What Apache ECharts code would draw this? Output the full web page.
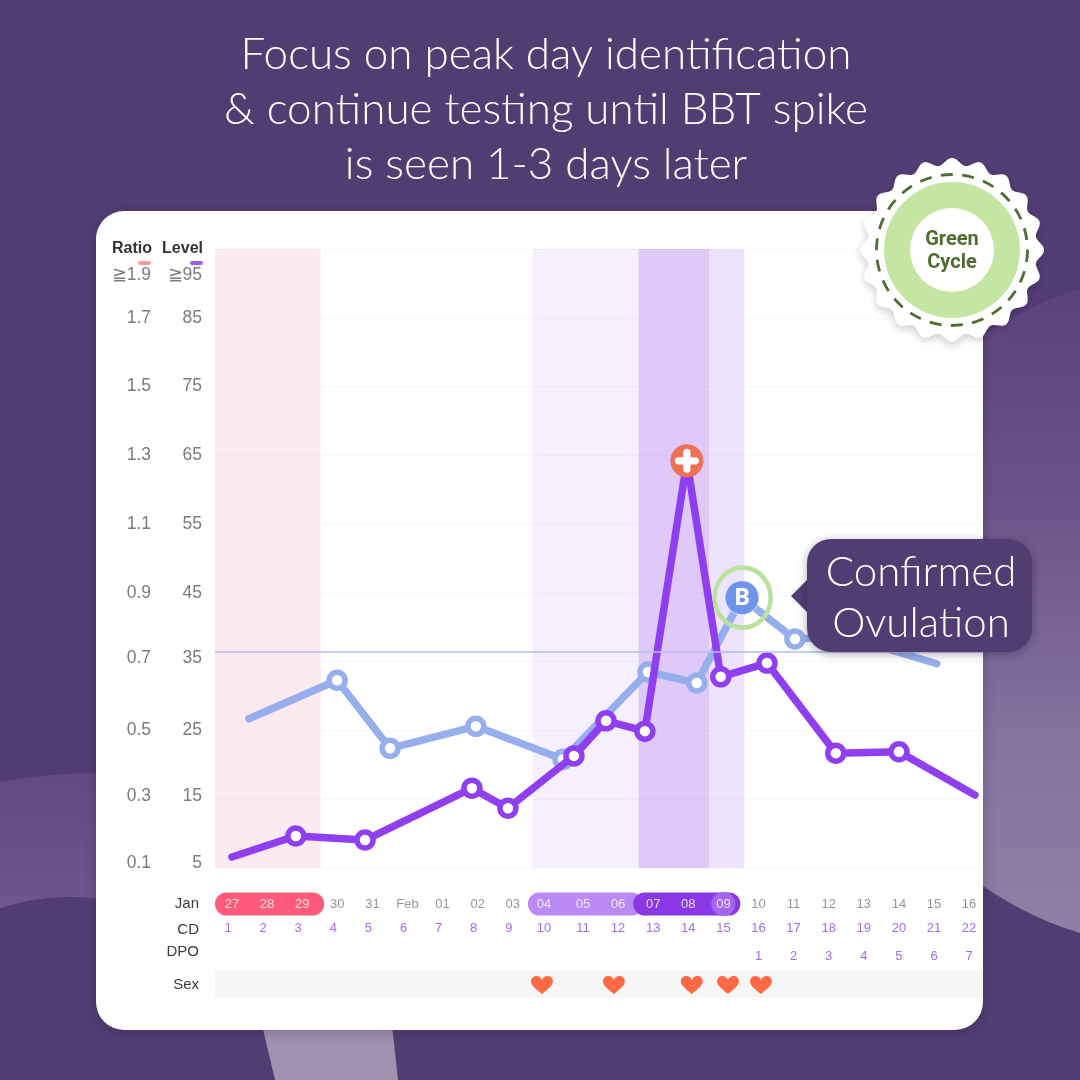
<!DOCTYPE html>
<html>
<head>
<meta charset="utf-8">
<style>html,body{margin:0;padding:0;background:#523d73}#c{width:1080px;height:1080px}</style>
<script src="https://cdn.jsdelivr.net/npm/echarts@6/dist/echarts.min.js"></script>
</head>
<body>
<div id="c"></div>
<script>
// ---------- data ----------
const titleLines = ['Focus on peak day identification', '& continue testing until BBT spike', 'is seen 1-3 days later'];
const levelTicks = [5, 15, 25, 35, 45, 55, 65, 75, 85, 95];
const ratioTicks = ['0.1', '0.3', '0.5', '0.7', '0.9', '1.1', '1.3', '1.5', '1.7', '1.9'];
const levelDays = [0.98, 2.79, 4.75, 7.78, 8.8, 10.67, 11.58, 12.68, 13.87, 14.83, 16.14, 18.09, 19.88, 22.03];
const levelValues = [6.6, 9.65, 9.07, 16.6, 13.7, 21.3, 26.4, 24.9, 64.2, 32.8, 34.8, 21.7, 21.9, 15.6];
const bbtDays = [1.46, 3.96, 5.46, 7.89, 10.36, 12.77, 14.15, 15.43, 16.93, 18.35, 20.95];
const bbtValues = [26.7, 32.3, 22.4, 25.6, 20.8, 33.5, 31.9, 44.3, 38.3, 38.7, 34.7];
const coverLine = 36.4;
const dateLabels = ['27','28','29','30','31','Feb','01','02','03','04','05','06','07','08','09','10','11','12','13','14','15','16'];
const cdLabels = ['1','2','3','4','5','6','7','8','9','10','11','12','13','14','15','16','17','18','19','20','21','22'];
const dpoDays = [16, 17, 18, 19, 20, 21, 22];
const dpoLabels = ['1','2','3','4','5','6','7'];
const sexDays = [9.83, 11.88, 14.1, 15.13, 16.07];
const rowNames = ['Jan', 'CD', 'DPO', 'Sex'];

// ---------- styles / layout ----------
const PURPLE = '#8f3ff0', BLUE = '#97aeec', SANS = '"Liberation Sans", Arial, sans-serif', HAND = 'Lato, "Open Sans", sans-serif';
const bandList = [
  [0.5, 3.5, 'rgba(238,130,170,0.17)'],
  [9.5, 12.5, 'rgba(155,90,240,0.09)'],
  [12.5, 14.5, 'rgba(140,70,235,0.29)'],
  [14.5, 15.5, 'rgba(140,70,235,0.15)']
];
const pillList = [
  [1, 3, 17, 22, '#ff5a7c'],
  [10, 12, 20, 25, '#b98af3'],
  [13, 15, 20, 17, '#8a38e6']
];
const rowLabelY = { Jan: 24, CD: 50, DPO: 72, Sex: 105 };
const dateRowY = 24, cdRowY = 48, dpoRowY = 76, sexRowY = 105;
const tickShift = { '≧95': 'down25', '35': 'up3', '15': 'up3', '5': 'up6', '≧1.9': 'down25', '0.7': 'up3', '0.3': 'up3', '0.1': 'up6' };
const labelBase = { fontSize: 17.5, color: '#7b7b7b', fontFamily: SANS };
const tickRich = {
  down25: Object.assign({ padding: [52, 0, 0, 0] }, labelBase),
  up3: Object.assign({ padding: [0, 0, 6, 0] }, labelBase),
  up6: Object.assign({ padding: [0, 0, 10, 0] }, labelBase),
  n: labelBase
};
function tickFormatter(text) {
  return '{' + (tickShift[text] || 'n') + '|' + text + '}';
}
function scallop(cx, cy, n) {
  const pts = [];
  for (let i = 0; i < 720; i++) {
    const t = i / 720 * Math.PI * 2;
    const r = 88.5 + 3.5 * Math.cos(n * (t + Math.PI / 2));
    pts.push([cx + r * Math.cos(t), cy + r * Math.sin(t)]);
  }
  return pts;
}
const back = -10, front = 100;

const chart = echarts.init(document.getElementById('c'), null, { renderer: 'canvas' });
chart.setOption({
  animation: false,
  backgroundColor: '#523d73',
  title: {
    text: titleLines.join('\n'), left: 541, top: 22, textAlign: 'center',
    textStyle: { color: '#fff', fontFamily: HAND, fontWeight: 300, fontSize: 44, lineHeight: 55 }
  },
  grid: [
    { left: 215, top: 249, width: 768, height: 619 },
    { left: 215, top: 880, width: 768, height: 120 }
  ],
  xAxis: [
    { type: 'value', gridIndex: 0, show: false, min: 0.5, max: 22.26, splitLine: { show: false } },
    { type: 'value', gridIndex: 1, show: false, min: 0.5157, max: 22.396, splitLine: { show: false } }
  ],
  yAxis: [
    {
      type: 'value', gridIndex: 0, position: 'left', min: 5, max: 95, interval: 10,
      name: 'Level', nameLocation: 'end', nameGap: 0,
      nameTextStyle: { align: 'right', verticalAlign: 'middle', fontFamily: SANS, fontSize: 16, fontWeight: 'bold', color: '#333', padding: [0, 12, 0, 0] },
      axisLine: { show: false }, axisTick: { show: false },
      splitLine: { show: true, lineStyle: { color: '#f8f7f9', width: 1 } },
      axisLabel: {
        margin: 13, rich: tickRich,
        formatter: (v) => { const t = String(Math.round(v)); return tickFormatter(t === '95' ? '≧95' : t); }
      }
    },
    {
      type: 'value', gridIndex: 0, position: 'left', offset: 52, min: 0.1, max: 1.9, interval: 0.2,
      name: 'Ratio', nameLocation: 'end', nameGap: 0,
      nameTextStyle: { align: 'right', verticalAlign: 'middle', fontFamily: SANS, fontSize: 16, fontWeight: 'bold', color: '#333', padding: [0, 11, 0, 0] },
      axisLine: { show: false }, axisTick: { show: false }, splitLine: { show: false },
      axisLabel: {
        margin: 12, rich: tickRich,
        formatter: (v) => { const t = ratioTicks[Math.round((v - 0.1) / 0.2)]; return tickFormatter(t === '1.9' ? '≧1.9' : t); }
      }
    },
    {
      type: 'value', gridIndex: 1, inverse: true, min: 0, max: 120,
      axisLine: { show: false }, axisTick: { show: false }, splitLine: { show: false },
      axisLabel: {
        customValues: rowNames.map((n) => rowLabelY[n]), margin: 16,
        fontFamily: SANS, fontSize: 15, color: '#3c3c3c',
        formatter: (v) => rowNames.find((n) => rowLabelY[n] === v) || ''
      }
    }
  ],
  series: [
    {
      name: 'Bands', type: 'line', xAxisIndex: 0, yAxisIndex: 0, data: [], z: 1, silent: true,
      markArea: {
        silent: true,
        data: bandList.map((b) => [
          { xAxis: b[0], yAxis: 5, itemStyle: { color: b[2] } },
          { xAxis: b[1], yAxis: 95 }
        ])
      },
      markLine: {
        silent: true, symbol: 'none', label: { show: false },
        lineStyle: { color: '#b4bdee', width: 1.5, type: 'solid' },
        data: [{ yAxis: coverLine }]
      }
    },
    {
      name: 'BBT', type: 'line', xAxisIndex: 0, yAxisIndex: 0, z: 3,
      data: bbtDays.map((d, i) => {
        const hide = i === 0 || i === bbtDays.length - 1 || i === 7;
        return { value: [d, bbtValues[i]], symbol: hide ? 'none' : 'circle' };
      }),
      symbolSize: 16, showAllSymbol: true,
      lineStyle: { color: BLUE, width: 7.5, cap: 'round', join: 'round' },
      itemStyle: { color: '#fff', borderColor: BLUE, borderWidth: 5.5 }
    },
    {
      name: 'Level', type: 'line', xAxisIndex: 0, yAxisIndex: 0, z: 4,
      data: levelDays.map((d, i) => {
        const hide = i === 0 || i === levelDays.length - 1 || i === 8;
        return { value: [d, levelValues[i]], symbol: hide ? 'none' : 'circle' };
      }),
      symbolSize: 16, showAllSymbol: true,
      lineStyle: { color: PURPLE, width: 7.5, cap: 'round', join: 'round' },
      itemStyle: { color: '#fff', borderColor: PURPLE, borderWidth: 5.5 }
    },
    {
      name: 'PeakDisc', type: 'scatter', xAxisIndex: 0, yAxisIndex: 0, z: 6, silent: true,
      data: [[levelDays[8], levelValues[8]]], symbol: 'circle', symbolSize: 33,
      itemStyle: { color: '#ee7055', opacity: 1 }
    },
    {
      name: 'PeakPlus', type: 'scatter', xAxisIndex: 0, yAxisIndex: 0, z: 7, silent: true,
      data: [[levelDays[8], levelValues[8]]],
      symbol: 'path://M7 3a3 3 0 0 1 6 0v4h4a3 3 0 0 1 0 6h-4v4a3 3 0 0 1-6 0v-4H3a3 3 0 0 1 0-6h4z', symbolSize: 24,
      itemStyle: { color: '#fff', opacity: 1 }
    },
    {
      name: 'BbtSpike', type: 'scatter', xAxisIndex: 0, yAxisIndex: 0, z: 6, silent: true,
      data: [[bbtDays[7], bbtValues[7]]], symbol: 'circle', symbolSize: 34,
      itemStyle: { color: '#6f95ea', borderColor: '#dfe8fb', borderWidth: 1, opacity: 1 },
      label: { show: true, position: 'inside', formatter: 'B', color: '#fff', fontFamily: '"Open Sans", sans-serif', fontWeight: 'bold', fontSize: 24 }
    },
    {
      name: 'BbtRing', type: 'scatter', xAxisIndex: 0, yAxisIndex: 0, z: 6, silent: true,
      data: [[bbtDays[7] + 0.02, bbtValues[7]]], symbol: 'circle', symbolSize: [56, 60],
      itemStyle: { color: 'transparent', borderColor: '#b9e29e', borderWidth: 4.5, opacity: 1 }
    },
    // ---- table rows ----
    {
      name: 'Pills', type: 'custom', xAxisIndex: 1, yAxisIndex: 2, z: 2, silent: true,
      data: pillList.map((p) => [p[0], p[1]]),
      renderItem: (params, api) => {
        const p = pillList[params.dataIndex];
        const a = api.coord([api.value(0), dateRowY]);
        const b = api.coord([api.value(1), dateRowY]);
        return {
          type: 'rect',
          shape: { x: a[0] - p[2], y: a[1] - 11.5, width: b[0] - a[0] + p[2] + p[3], height: 23, r: 11.5 },
          style: { fill: p[4] }
        };
      }
    },
    {
      name: 'Day9Mark', type: 'scatter', xAxisIndex: 1, yAxisIndex: 2, z: 3, silent: true,
      data: [[15, dateRowY]], symbol: 'circle', symbolSize: 24,
      itemStyle: { color: '#a466ee', opacity: 1 }
    },
    {
      name: 'Dates', type: 'scatter', xAxisIndex: 1, yAxisIndex: 2, z: 5, silent: true,
      data: dateLabels.map((t, i) => {
        const d = i + 1;
        const inPill = d <= 3 || (d >= 10 && d <= 15);
        return {
          value: [d, dateRowY], name: t,
          label: { color: inPill ? '#fff' : '#7a7a7a', offset: [d === 10 ? -4 : 0, 0] }
        };
      }),
      symbolSize: 1, itemStyle: { color: 'transparent' },
      label: { show: true, position: 'inside', formatter: (p) => p.name, fontFamily: SANS, fontSize: 13 }
    },
    {
      name: 'CD', type: 'scatter', xAxisIndex: 1, yAxisIndex: 2, z: 5, silent: true,
      data: cdLabels.map((t, i) => ({ value: [i + 1, cdRowY], name: t, label: { offset: [i < 10 ? -4 : 0, 0] } })),
      symbolSize: 1, itemStyle: { color: 'transparent' },
      label: { show: true, position: 'inside', formatter: (p) => p.name, fontFamily: SANS, fontSize: 13, color: '#8f45e0' }
    },
    {
      name: 'DPO', type: 'scatter', xAxisIndex: 1, yAxisIndex: 2, z: 5, silent: true,
      data: dpoDays.map((d, i) => ({ value: [d, dpoRowY], name: dpoLabels[i] })),
      symbolSize: 1, itemStyle: { color: 'transparent' },
      label: { show: true, position: 'inside', formatter: (p) => p.name, fontFamily: SANS, fontSize: 13, color: '#8f45e0' }
    },
    {
      name: 'Sex', type: 'scatter', xAxisIndex: 1, yAxisIndex: 2, z: 4, silent: true,
      data: sexDays.map((d) => [d, sexRowY]),
      symbol: 'path://M12 21C5 15 1 11 1 7a5.5 5.5 0 0 1 11-1.5A5.5 5.5 0 0 1 23 7c0 4-4 8-11 14z',
      symbolSize: [22, 18], itemStyle: { color: '#ff6a45', opacity: 1 },
      markArea: {
        silent: true, itemStyle: { color: '#f6f6f6' },
        data: [[{ xAxis: 0.5157, yAxis: 91 }, { xAxis: 22.396, yAxis: 118 }]]
      }
    }
  ],
  graphic: { elements: [
    // background shapes
    { type: 'circle', z: back, shape: { cx: 1176, cy: 611, r: 336 },
      style: { fill: new echarts.graphic.LinearGradient(0, 0, 0, 1, [{ offset: 0, color: '#5a4179' }, { offset: 0.35, color: '#6d5389' }, { offset: 0.7, color: '#8574a0' }, { offset: 1, color: '#8f81a5' }]) } },
    { type: 'circle', z: back, shape: { cx: 100, cy: 1373, r: 600 },
      style: { fill: new echarts.graphic.LinearGradient(0, 0, 0, 0.2, [{ offset: 0, color: '#644982' }, { offset: 1, color: '#795f93' }]) } },
    { type: 'circle', z: back, shape: { cx: 70, cy: 1120, r: 223 }, style: { fill: '#523d73' } },
    { type: 'rect', z: back, shape: { x: 0, y: 1000, width: 1080, height: 80 }, style: { fill: '#523d73' } },
    { type: 'polygon', z: back, shape: { points: [[262, 1025], [392, 1025], [398, 1080], [275, 1080]] }, style: { fill: '#a191b0' } },
    // card
    { type: 'rect', z: back, shape: { x: 96, y: 211, width: 887, height: 819, r: 28 },
      style: { fill: '#fff', shadowBlur: 14, shadowColor: 'rgba(30,15,50,0.3)', shadowOffsetY: 2 } },
    // key swatches under the axis names
    { type: 'rect', z: 50, shape: { x: 138, y: 261, width: 13, height: 4, r: 2 }, style: { fill: '#ff9a92' } },
    { type: 'rect', z: 50, shape: { x: 190, y: 261, width: 13, height: 4, r: 2 }, style: { fill: '#9a5ff0' } },
    // callout
    { type: 'polygon', z: front, shape: { points: [[809, 578], [791, 596], [809, 614]] }, style: { fill: '#523d73' } },
    { type: 'rect', z: front, shape: { x: 807, y: 539, width: 225, height: 113, r: 24 },
      style: { fill: '#523d73', shadowBlur: 10, shadowColor: 'rgba(20,10,40,0.35)', shadowOffsetY: 2 } },
    { type: 'text', z: front + 1, x: 921, y: 598,
      style: { text: 'Confirmed\nOvulation', fill: '#fff', font: '300 42px ' + HAND, lineHeight: 51, align: 'center', verticalAlign: 'middle' } },
    // badge
    { type: 'polygon', z: front, shape: { points: scallop(952, 250, 20) },
      style: { fill: '#fff', shadowBlur: 8, shadowColor: 'rgba(30,15,50,0.22)', shadowOffsetY: 3 } },
    { type: 'circle', z: front + 1, shape: { cx: 952, cy: 250, r: 75.5 },
      style: { fill: 'none', stroke: '#4f6c31', lineWidth: 2.8, lineDash: [12, 9.5] } },
    { type: 'circle', z: front + 1, shape: { cx: 952, cy: 250, r: 68 }, style: { fill: '#c4e6a2' } },
    { type: 'circle', z: front + 2, shape: { cx: 952, cy: 250, r: 42 }, style: { fill: '#fff' } },
    { type: 'text', z: front + 3, x: 952, y: 251,
      style: { text: 'Green\nCycle', fill: '#4f6c31', font: 'bold 20px Roboto, sans-serif', lineHeight: 23, align: 'center', verticalAlign: 'middle' } }
  ] }
});
</script>
</body>
</html>
